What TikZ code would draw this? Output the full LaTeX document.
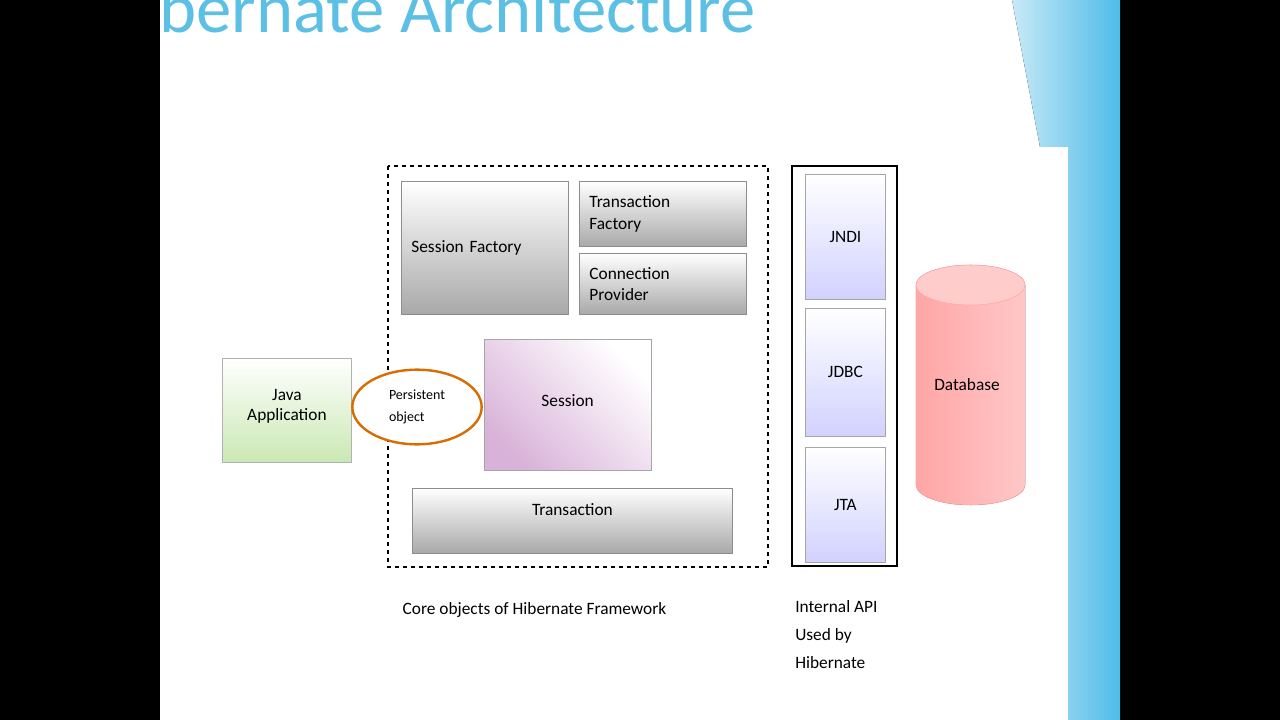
\documentclass[tikz,border=0pt]{standalone}
\usepackage{fontspec}
\setmainfont{Carlito}
\usetikzlibrary{shapes.geometric}
\definecolor{ttl}{HTML}{5BC0E4}
\definecolor{grayb}{HTML}{A8A8A8}
\definecolor{sky}{HTML}{8FD3EF}
\definecolor{skyd}{HTML}{4FBCE8}
\tikzset{
 gbox/.style={draw=black!45, top color=white, bottom color=grayb, line width=0.6pt, font=\fontsize{13}{16}\selectfont, align=left},
 bbox/.style={draw=black!35, top color=white, bottom color=blue!18, line width=0.6pt, font=\fontsize{13}{16}\selectfont},
 lbl/.style={font=\fontsize{13}{16}\selectfont, align=left}
}
\begin{document}
\begin{tikzpicture}[x=0.75pt,y=-0.75pt]
\useasboundingbox (0,0) rectangle (1280,720);
\fill[black] (0,0) rectangle (1280,720);
\fill[white] (160,0) rectangle (1120,720);
\fill[left color=sky!50, right color=skyd] (1012,0) -- (1120,0) -- (1120,720) -- (1068,720) -- (1068,147) -- (1040,147) -- cycle;
\fill[white] (160,147) rectangle (1068,720);
\begin{scope}
\clip (160,0) rectangle (1120,720);
\node[anchor=base east, text=ttl, font=\fontsize{53}{58}\selectfont, inner sep=0] (title) at (756,33) {Hibernate Architecture};
\end{scope}
\draw[dashed, line width=0.8pt] (388,166) rectangle (768,567);
\node[gbox, minimum width=125pt, minimum height=100pt, anchor=north west, text width=110pt] (sf) at (401,181) {Session Factory};
\node[gbox, minimum width=125pt, minimum height=49pt, anchor=north west, text width=110pt] (tf) at (579,181) {Transaction\\Factory};
\node[gbox, minimum width=125pt, minimum height=46pt, anchor=north west, text width=110pt] (cp) at (579,253) {Connection\\Provider};
\node[draw=black!35, top color=white, bottom color=violet!30, shading angle=-45, minimum width=125pt, minimum height=98pt, anchor=north west, font=\fontsize{13}{16}\selectfont] (sess) at (484,339) {\raisebox{6pt}{Session}};
\node[gbox, minimum width=240pt, minimum height=49pt, anchor=north west, align=center] (tr) at (412,488) {\raisebox{18pt}{Transaction}};
\node[draw=black!30, top color=white, bottom color=green!40!olive!30, minimum width=97pt, minimum height=78pt, anchor=north west, font=\fontsize{13}{20}\selectfont, align=center] (ja) at (222,358) {\raisebox{8pt}{\shortstack{Java\\[3pt]Application}}};
\node[ellipse, draw=orange!85!black, line width=1.8pt, fill=white, minimum width=97pt, minimum height=56pt, font=\fontsize{10.5}{16}\selectfont, align=left] (po) at (417,407) {Persistent\\object};
\draw[line width=0.8pt] (792,166) rectangle (897,566);
\node[bbox, minimum width=60pt, minimum height=94pt, anchor=north west] (jndi) at (805,174) {JNDI};
\node[bbox, minimum width=60pt, minimum height=96pt, anchor=north west] (jdbc) at (805,308) {JDBC};
\node[bbox, minimum width=60pt, minimum height=86pt, anchor=north west] (jta) at (805,447) {JTA};
\fill[left color=red!35, right color=red!22, draw=red!35] (916,285) -- (916,485) arc[start angle=180,end angle=0,x radius=54.5,y radius=20] -- (1025,285) arc[start angle=0,end angle=-180,x radius=54.5,y radius=20];
\fill[red!20, draw=red!35] (970.5,285) ellipse[x radius=54.5,y radius=20];
\node[lbl] (db) at (967,385) {Database};
\node[lbl, anchor=west] (core) at (398,610) {Core objects of Hibernate Framework};
\node[lbl, anchor=north west, inner sep=0, font=\fontsize{13}{21}\selectfont] (iapi) at (795,600) {Internal API\\Used by\\Hibernate};
\end{tikzpicture}
\end{document}
